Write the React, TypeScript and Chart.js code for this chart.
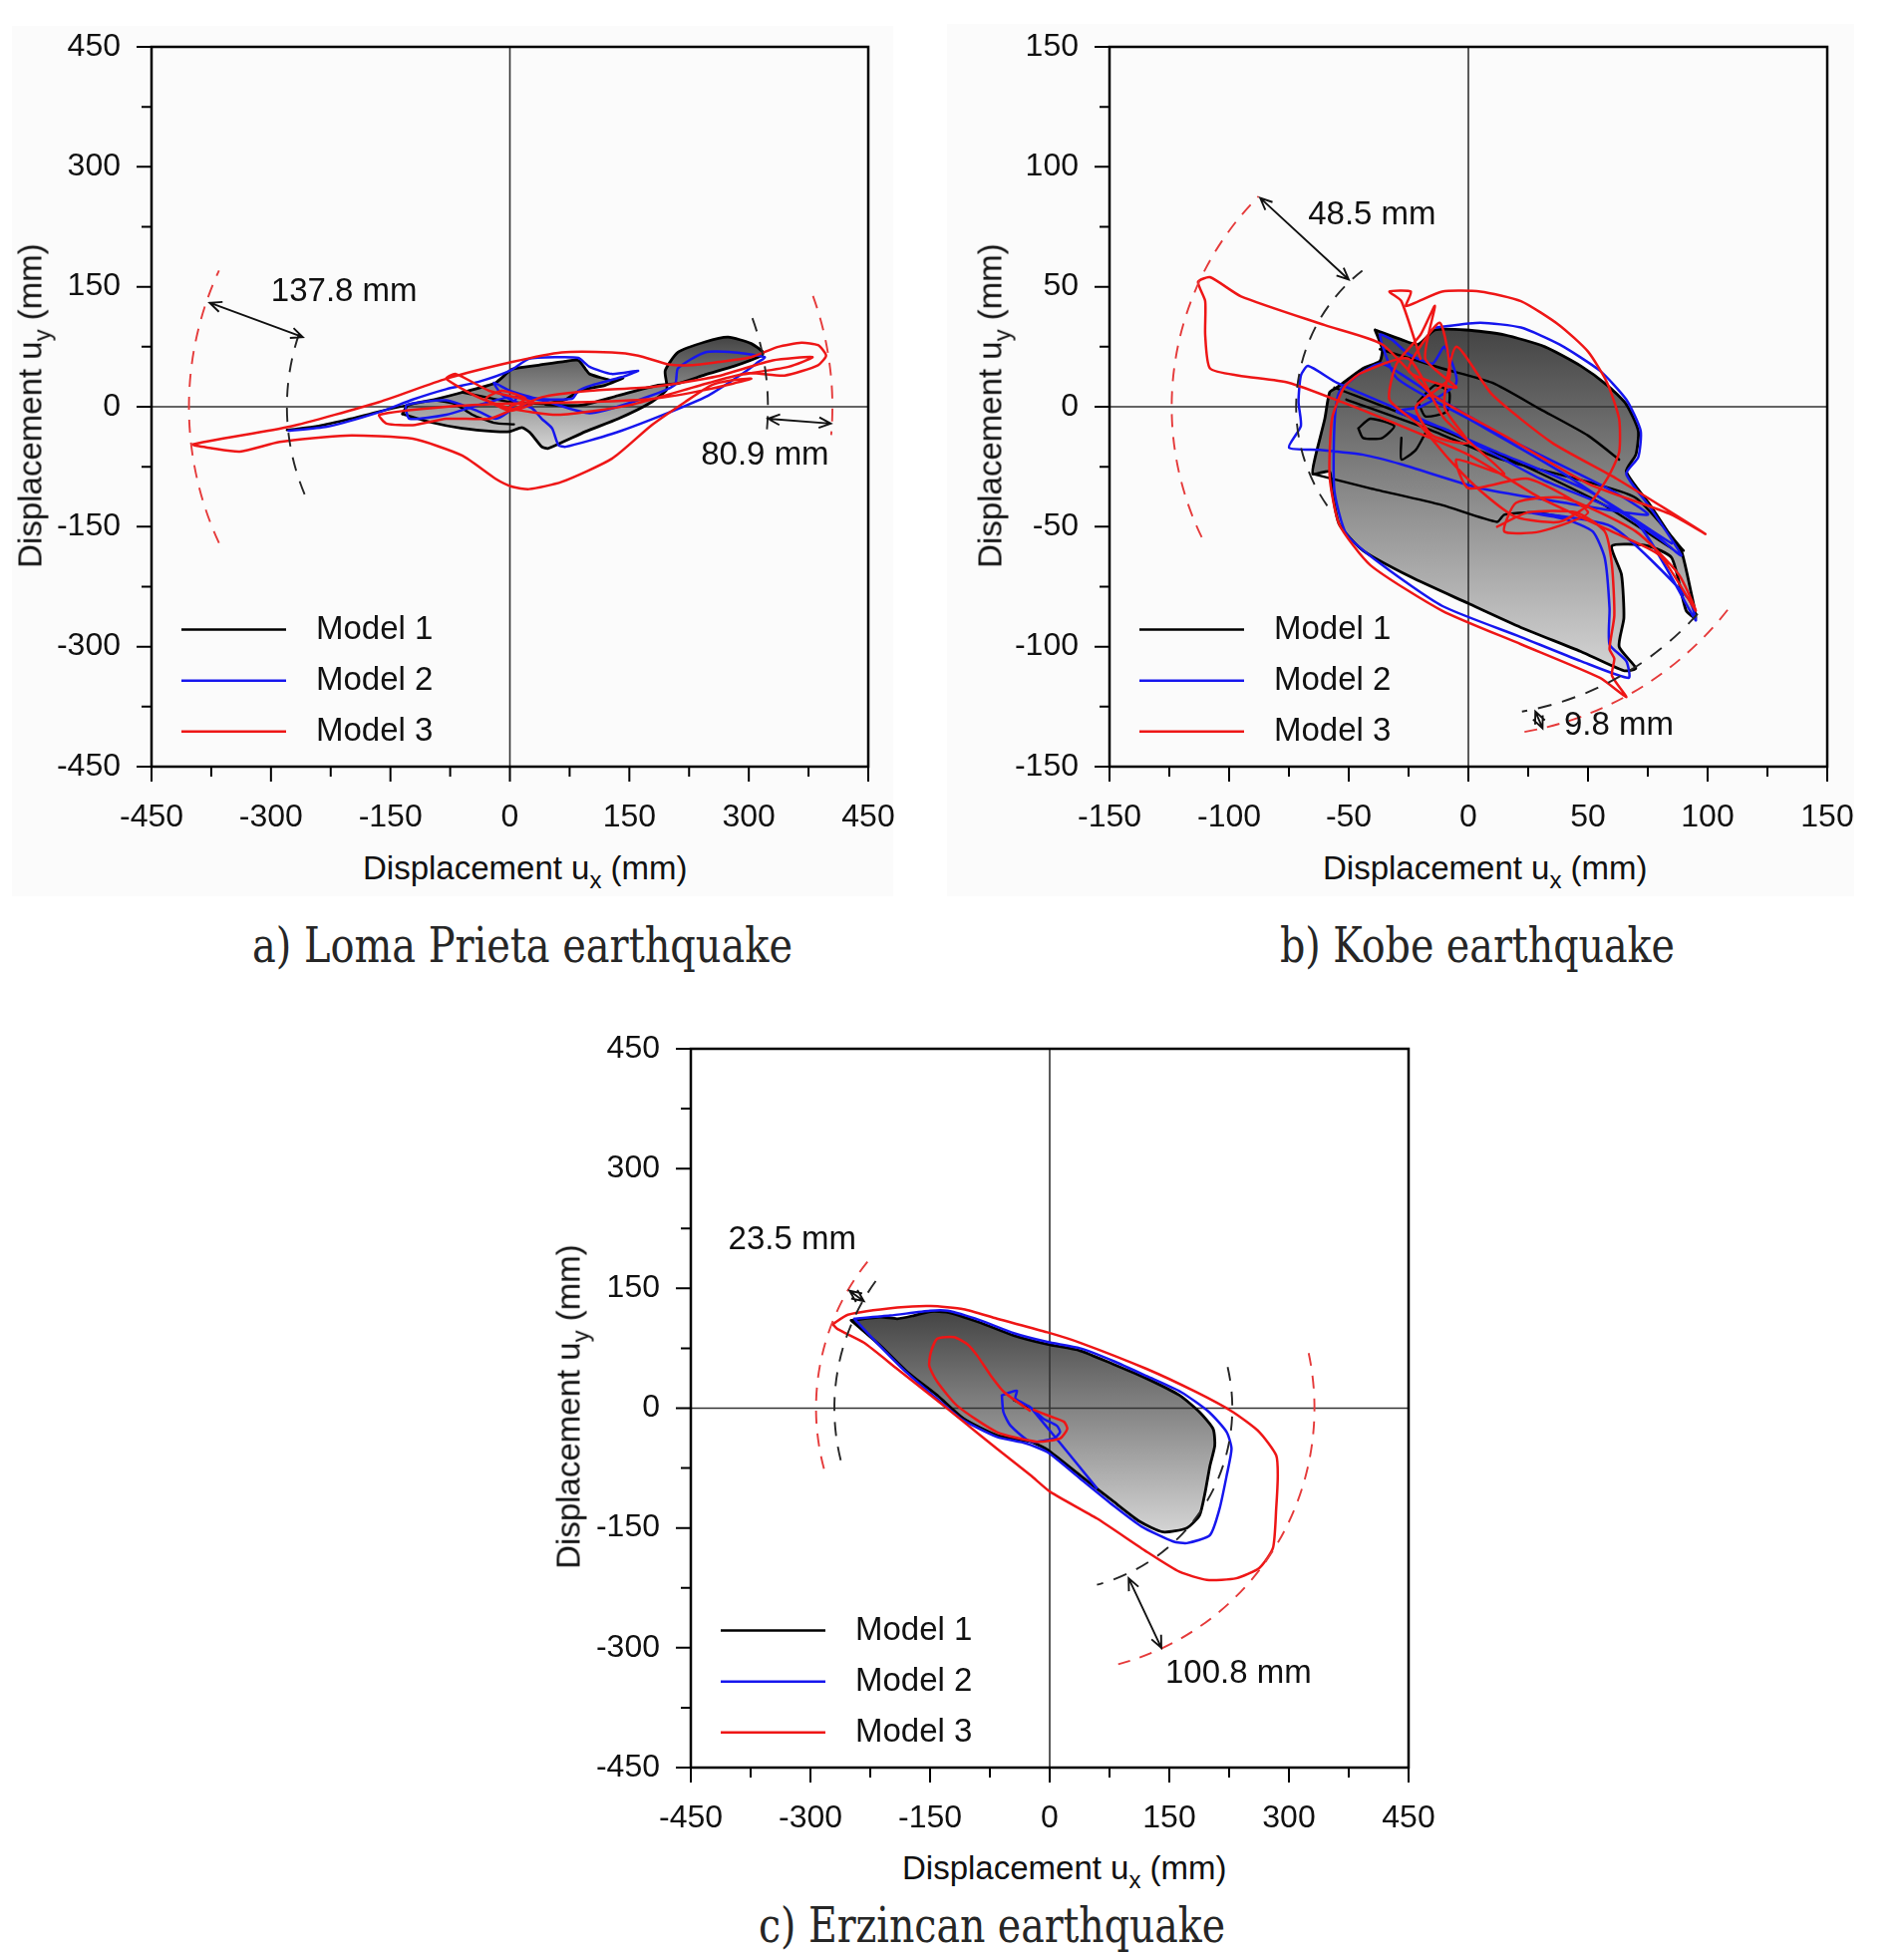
import React, { useEffect, useLayoutEffect, useRef } from 'react';
import { Chart, registerables } from 'chart.js';

Chart.register(...registerables);
Chart.defaults.font.family = '"Liberation Sans", Arial, Helvetica, sans-serif';

type Pt = [number, number] | null;
type Arc = { r: number; from: number; to: number; kind: 'm1' | 'm3' };
type Arrow = [number, number, number, number];
type Note = { text: string; x: number; y: number };

const MODEL_NAMES = ['Model 1', 'Model 2', 'Model 3'];

// ---------- a) Loma Prieta ----------
const LOMA_TICKS = [-450, -300, -150, 0, 150, 300, 450];
const LOMA_MODEL1_AREA: Pt[] = [
  [-135, -9], [-128, 2], [-95, 9], [-56, 19], [-18, 30], [3, 47], [36, 52], [70, 57], [86, 58], [95, 47],
  [100, 41], [128, 33], [142, 36], [120, 27], [88, 20], [70, 9], [45, 3], [90, 2], [136, 14], [186, 27],
  [211, 29], [245, 40], [282, 51], [316, 64], [318, 68], [303, 79], [274, 87], [245, 81], [211, 68], [195, 45],
  [197, 22], [178, 6], [136, -15], [95, -31], [48, -52], [40, -50], [25, -32], [15, -26], [0, -31], [-18, -31],
  [-60, -27], [-101, -19], [-135, -9],
];
const LOMA_MODEL1_TRACE: Pt[] = [
  [-280, -29], [-240, -24], [-200, -15], [-165, -6], [-128, 2], null,
  [-93, 8], [-70, 4], [-47, -10], [-20, -20], [5, -22], null,
  [-60, 18], [-30, 12], [0, 6], [30, 4], [60, 3],
];
const LOMA_MODEL2: Pt[] = [
  [-278, -30], [-230, -25], [-165, -7], [-122, 9], [-80, 22], [-40, 31], [0, 45], [24, 60], [60, 62], [86, 61],
  [100, 50], [128, 41], [161, 45], [140, 37], [103, 27], [86, 20], [78, 10], [36, 10], [0, 20], [-20, 30],
  [-10, 15], [10, 5], [28, -2], [40, -15], [53, -27], [61, -48], [70, -50], [128, -34], [190, -11], [249, 14],
  [290, 40], [312, 56], [320, 62], [282, 68], [245, 68], [211, 48], [207, 27], [160, 8], [100, -8], [40, 8],
  [0, 12], [-40, 2], [-80, -10], [-126, -15], [-130, 2], [-80, 8], [-39, -6], [-18, -15], [0, -5], [10, 15],
];
const LOMA_MODEL3: Pt[] = [
  [0, 0], [20, 10], [-10, 20], [-30, 10], [0, -5], [30, 5], [-26, 20], [-68, 41], [-80, 35], [-40, 12],
  [0, -2], [60, -10], [150, 2], [250, 30], [300, 42], [345, 39], [387, 52], [397, 64], [387, 77], [366, 80],
  [337, 75], [303, 62], [262, 56], [228, 52], [199, 53], [161, 64], [128, 68], [65, 68], [3, 56], [-80, 35],
  [-164, 6], [-277, -25], [-398, -47], [-373, -52], [-339, -56], [-289, -44], [-206, -36], [-122, -40], [-60, -61], [-18, -90],
  [3, -100], [24, -103], [65, -94], [128, -65], [178, -23], [220, 6], [253, 27], [278, 33], [303, 35], [250, 22],
  [180, 10], [100, 6], [0, 4], [-80, 0], [-164, -10], [-155, -21], [-122, -23], [-80, -15], [-26, -15], [0, -5],
  [40, 12], [100, 20], [180, 25], [260, 38], [330, 58], [380, 62], [350, 50], [290, 40],
];
const LOMA_ARCS: Arc[] = [
  { r: 403, from: 155, to: 205, kind: 'm3' },
  { r: 280, from: 160, to: 203, kind: 'm1' },
  { r: 324, from: -5, to: 20, kind: 'm1' },
  { r: 405, from: -5, to: 20, kind: 'm3' },
];
const LOMA_ARROWS: Arrow[] = [[-377, 130, -260, 87], [324, -15, 403, -21]];
const LOMA_NOTES: Note[] = [{ text: '137.8 mm', x: -300, y: 144 }, { text: '80.9 mm', x: 240, y: -61 }];

// ---------- b) Kobe ----------
const KOBE_TICKS = [-150, -100, -50, 0, 50, 100, 150];
const KOBE_MODEL1_AREA: Pt[] = [
  [-39, 32], [-28, 28], [-21, 26], [-14, 32], [-1, 32], [15, 30], [32, 25], [47, 17], [58, 9], [66, 1],
  [71, -10], [70, -20], [66, -27], [76, -41], [84, -53], [89, -60], [93, -77], [95, -88], [91, -85], [85, -63],
  [75, -58], [60, -58], [64, -70], [65, -88], [63, -100], [70, -109], [65, -110], [47, -102], [22, -92], [0, -82],
  [-24, -71], [-44, -60], [-54, -49], [-57, -35], [-58, -27], [-65, -28], [-64, -21], [-60, -5], [-58, 6], [-55, 8],
  [-44, 16], [-37, 19], [-36, 24], [-39, 32],
];
const KOBE_MODEL1_TRACE: Pt[] = [
  [-56, 8], [-20, -6], [22, -24], [55, -40], [85, -59], null,
  [-51, 3], [-15, -10], [14, -22], [45, -30], [70, -38], [90, -60], null,
  [-37, 24], [-11, 16], [10, 10], [30, -1], [50, -12], [63, -22], null,
  [-46, -9], [-41, -5], [-31, -8], [-36, -13], [-44, -13], [-46, -9], null,
  [-28, -13], [-28, -22], [-22, -18], [-18, -11], null,
  [-21, 2], [-18, -4], [-9, -2], [-8, 6], [-14, 9], [-21, 2], null,
  [-65, -28], [-41, -34], [-11, -41], [12, -48], [15, -45], [27, -44], [40, -46],
];
const KOBE_MODEL2: Pt[] = [
  [-14, 33], [5, 35], [22, 33], [38, 26], [55, 15], [66, 3], [72, -10], [71, -21], [66, -28], [76, -42],
  [89, -62], [80, -55], [40, -28], [0, -5], [-30, 12], [-37, 30], [-32, 28], [-25, 22], [-15, 18], [-10, 25],
  [-5, 10], [-20, 0], [-30, -2], [-8, -10], [30, -30], [70, -48], [95, -89], [92, -80], [60, -50], [25, -44],
  [41, -47], [52, -52], [57, -63], [59, -84], [59, -99], [66, -106], [67, -113], [47, -106], [22, -96], [-11, -83],
  [-36, -66], [-51, -53], [-56, -35], [-56, -8], [-54, 6], [-45, 14], [-36, 18], [-15, 5], [20, -15], [60, -35],
  [75, -45], [40, -40], [5, -34], [-28, -24], [-44, -20], [-62, -18], [-75, -17], [-70, -8], [-71, 2], [-70, 13],
  [-67, 17], [-55, 10], [-20, -5], [10, -18], [50, -35], [85, -57],
];
const KOBE_MODEL3: Pt[] = [
  [-20, 20], [-28, 44], [-33, 48], [-24, 48], [-26, 42], [-11, 48], [5, 48], [22, 44], [38, 34], [50, 23],
  [58, 10], [63, -5], [63, -19], [58, -30], [50, -41], [38, -48], [20, -46], [5, -35], [-8, -22], [-20, -8],
  [-33, 3], [-30, 18], [-20, 30], [-14, 42], [-18, 20], [-5, 8], [-25, 15], [-12, 35], [-8, 12], [-22, 0],
  [-15, -12], [0, -15], [-10, 0], [-5, 25], [10, 5], [35, -15], [62, -30], [99, -53], [85, -45], [50, -32],
  [15, -12], [-15, 5], [-36, 26], [-60, 34], [-95, 46], [-108, 54], [-113, 52], [-110, 44], [-110, 30], [-108, 16],
  [-96, 13], [-75, 10], [-53, 2], [-33, -6], [0, -20], [30, -38], [60, -52], [80, -62], [95, -85], [88, -70],
  [70, -52], [40, -38], [20, -40], [15, -52], [30, -52], [50, -44], [25, -30], [0, -34], [-5, -22], [15, -28],
  [-10, -5], [-25, 20], [-45, 14], [-52, 8], [-57, -5], [-58, -29], [-54, -49], [-41, -66], [-11, -85], [22, -99],
  [55, -113], [66, -121], [60, -112], [61, -105], [59, -101], [61, -87], [60, -66], [57, -52], [45, -44], [25, -44],
  [12, -50],
];
const KOBE_ARCS: Arc[] = [
  { r: 124, from: 135, to: 206, kind: 'm3' },
  { r: 72, from: 128, to: 215, kind: 'm1' },
  { r: 129, from: -80, to: -42, kind: 'm1' },
  { r: 137.5, from: -81, to: -38, kind: 'm3' },
];
const KOBE_ARROWS: Arrow[] = [[-87, 87, -50, 53], [28, -127, 31, -134]];
const KOBE_NOTES: Note[] = [{ text: '48.5 mm', x: -67, y: 80 }, { text: '9.8 mm', x: 40, y: -133 }];

// ---------- c) Erzincan ----------
const ERZINCAN_TICKS = [-450, -300, -150, 0, 150, 300, 450];
const ERZINCAN_MODEL1_AREA: Pt[] = [
  [-249, 110], [-212, 114], [-191, 112], [-170, 116], [-149, 121], [-128, 120], [-87, 107], [-45, 91], [-3, 80], [38, 72],
  [80, 55], [122, 37], [163, 16], [188, -5], [205, -26], [207, -47], [201, -72], [195, -105], [188, -134], [172, -150],
  [142, -155], [113, -142], [80, -117], [38, -84], [-3, -52], [-24, -42], [-66, -34], [-108, -13], [-141, 16], [-178, 45],
  [-212, 78], [-249, 110],
];
const ERZINCAN_MODEL1_TRACE: Pt[] = [[-45, 10], [-35, 6], [-28, 2]];
const ERZINCAN_MODEL2: Pt[] = [
  [-245, 112], [-200, 116], [-150, 122], [-128, 122], [-87, 110], [-45, 94], [-3, 83], [38, 75], [80, 59], [122, 40],
  [165, 20], [200, -5], [222, -30], [228, -51], [222, -84], [213, -126], [201, -159], [172, -169], [155, -167], [115, -148],
  [80, -122], [38, -88], [-3, -55], [-30, -44], [-66, -36], [-110, -14], [-145, 15], [-180, 45], [-215, 80], [-245, 112],
  null,
  [-60, 16], [-49, 20], [-41, 22], [-43, 12], [-24, 1], [-8, -13], [9, -22], [13, -30], [5, -38], [-24, -42],
  [-49, -22], [-58, -5], [-60, 16], null,
  [-24, 1], [10, -40], [59, -100],
];
const ERZINCAN_MODEL3: Pt[] = [
  [-272, 105], [-253, 117], [-191, 126], [-149, 128], [-108, 124], [-66, 112], [-3, 95], [38, 82], [122, 49], [184, 20],
  [230, -5], [263, -30], [284, -59], [286, -84], [284, -126], [280, -175], [263, -200], [234, -213], [197, -215], [163, -205],
  [122, -180], [59, -138], [1, -105], [-24, -84], [-66, -51], [-108, -17], [-149, 16], [-191, 49], [-233, 82], [-266, 99],
  [-272, 105], null,
  [-25, -3], [-57, 20], [-74, 41], [-91, 66], [-103, 80], [-120, 89], [-141, 87], [-149, 70], [-151, 53], [-141, 33],
  [-116, 3], [-66, -30], [-16, -42], [13, -38], [22, -26], [18, -17], [0, -10], [-20, -2],
];
const ERZINCAN_ARCS: Arc[] = [
  { r: 270, from: 142, to: 194, kind: 'm1' },
  { r: 293, from: 139, to: 195, kind: 'm3' },
  { r: 229, from: -75, to: 13, kind: 'm1' },
  { r: 332, from: -75, to: 12, kind: 'm3' },
];
const ERZINCAN_ARROWS: Arrow[] = [[-251, 147, -233, 134], [99, -213, 140, -300]];
const ERZINCAN_NOTES: Note[] = [{ text: '23.5 mm', x: -403, y: 211 }, { text: '100.8 mm', x: 145, y: -332 }];

// ---------- layout ----------
const AXIS_LEFT = 130;
const AXIS_BOTTOM = 70;
const PAD_TOP = 60;
const PAD_RIGHT = 66;
const FONT = '"Liberation Sans", Arial, Helvetica, sans-serif';
const BLACK = '#000000';
const BLUE = '#1616ee';
const RED = '#ee1616';

type Panel = {
  key: string;
  ticks: number[];
  area: Pt[];
  trace: Pt[];
  m2: Pt[];
  m3: Pt[];
  arcs: Arc[];
  arrows: Arrow[];
  notes: Note[];
  plot: { left: number; top: number; w: number; h: number };
};

const PANELS: Panel[] = [
  {
    key: 'a', ticks: LOMA_TICKS, area: LOMA_MODEL1_AREA, trace: LOMA_MODEL1_TRACE, m2: LOMA_MODEL2, m3: LOMA_MODEL3,
    arcs: LOMA_ARCS, arrows: LOMA_ARROWS, notes: LOMA_NOTES, plot: { left: 152, top: 47, w: 719, h: 722 },
  },
  {
    key: 'b', ticks: KOBE_TICKS, area: KOBE_MODEL1_AREA, trace: KOBE_MODEL1_TRACE, m2: KOBE_MODEL2, m3: KOBE_MODEL3,
    arcs: KOBE_ARCS, arrows: KOBE_ARROWS, notes: KOBE_NOTES, plot: { left: 1113, top: 47, w: 720, h: 722 },
  },
  {
    key: 'c', ticks: ERZINCAN_TICKS, area: ERZINCAN_MODEL1_AREA, trace: ERZINCAN_MODEL1_TRACE, m2: ERZINCAN_MODEL2, m3: ERZINCAN_MODEL3,
    arcs: ERZINCAN_ARCS, arrows: ERZINCAN_ARROWS, notes: ERZINCAN_NOTES, plot: { left: 693, top: 1052, w: 720, h: 721 },
  },
];

function drawArrow(ctx: CanvasRenderingContext2D, x1: number, y1: number, x2: number, y2: number) {
  const head = 13;
  const spread = 0.42;
  ctx.beginPath();
  ctx.moveTo(x1, y1);
  ctx.lineTo(x2, y2);
  const ends: [number, number, number][] = [
    [x1, y1, Math.atan2(y2 - y1, x2 - x1)],
    [x2, y2, Math.atan2(y1 - y2, x1 - x2)],
  ];
  for (const [ex, ey, ang] of ends) {
    ctx.moveTo(ex + head * Math.cos(ang + spread), ey + head * Math.sin(ang + spread));
    ctx.lineTo(ex, ey);
    ctx.lineTo(ex + head * Math.cos(ang - spread), ey + head * Math.sin(ang - spread));
  }
  ctx.stroke();
}

function decorPlugin(p: Panel) {
  return {
    id: 'orbitDecor',
    beforeDatasetsDraw(chart: any) {
      const { ctx, chartArea: a, scales } = chart;
      const xs = scales.x;
      const ys = scales.y;
      ctx.save();
      ctx.beginPath();
      ctx.rect(a.left, a.top, a.right - a.left, a.bottom - a.top);
      ctx.clip();
      // shaded envelope of Model 1
      const meta = chart.getDatasetMeta(0);
      const line = meta && meta.dataset;
      if (line && line.points && line.points.length) {
        line.updateControlPoints(a, 'x');
        const vals = p.area.filter((q) => q).map((q) => (q as [number, number])[1]);
        const yTop = ys.getPixelForValue(Math.max(...vals));
        const yBot = ys.getPixelForValue(Math.min(...vals));
        const g = ctx.createLinearGradient(0, yTop, 0, yBot);
        g.addColorStop(0, '#444444');
        g.addColorStop(1, '#d4d4d4');
        ctx.beginPath();
        line.path(ctx);
        ctx.closePath();
        ctx.fillStyle = g;
        ctx.fill();
      }
      // zero axes
      const x0 = xs.getPixelForValue(0);
      const y0 = ys.getPixelForValue(0);
      ctx.strokeStyle = '#333333';
      ctx.lineWidth = 1.6;
      ctx.beginPath();
      ctx.moveTo(x0, a.top);
      ctx.lineTo(x0, a.bottom);
      ctx.moveTo(a.left, y0);
      ctx.lineTo(a.right, y0);
      ctx.stroke();
      ctx.restore();
    },
    afterDatasetsDraw(chart: any) {
      const { ctx, chartArea: a, scales } = chart;
      const xs = scales.x;
      const ys = scales.y;
      const cx = xs.getPixelForValue(0);
      const cy = ys.getPixelForValue(0);
      const ux = xs.getPixelForValue(1) - cx;
      const uy = cy - ys.getPixelForValue(1);
      ctx.save();
      ctx.beginPath();
      ctx.rect(a.left, a.top, a.right - a.left, a.bottom - a.top);
      ctx.clip();
      // peak-displacement arcs
      for (const arc of p.arcs) {
        ctx.strokeStyle = arc.kind === 'm1' ? '#262626' : '#e53a3a';
        ctx.lineWidth = 1.9;
        ctx.setLineDash(arc.kind === 'm1' ? [14, 11] : [13, 10]);
        ctx.beginPath();
        ctx.ellipse(cx, cy, arc.r * ux, arc.r * uy, 0, (-arc.to * Math.PI) / 180, (-arc.from * Math.PI) / 180);
        ctx.stroke();
      }
      ctx.setLineDash([]);
      // dimension arrows
      ctx.strokeStyle = '#111';
      ctx.lineWidth = 1.9;
      for (const [x1, y1, x2, y2] of p.arrows) {
        drawArrow(ctx, xs.getPixelForValue(x1), ys.getPixelForValue(y1), xs.getPixelForValue(x2), ys.getPixelForValue(y2));
      }
      ctx.fillStyle = '#111';
      ctx.font = `33px ${FONT}`;
      ctx.textAlign = 'left';
      ctx.textBaseline = 'middle';
      for (const n of p.notes) {
        ctx.fillText(n.text, xs.getPixelForValue(n.x), ys.getPixelForValue(n.y));
      }
      // legend
      const legendColors = [BLACK, BLUE, RED];
      const legendOffsets = [137.5, 86.3, 35.2];
      for (let i = 0; i < 3; i++) {
        const y = a.bottom - legendOffsets[i];
        ctx.strokeStyle = legendColors[i];
        ctx.lineWidth = 2.6;
        ctx.beginPath();
        ctx.moveTo(a.left + 30, y);
        ctx.lineTo(a.left + 135, y);
        ctx.stroke();
        ctx.fillStyle = '#111';
        ctx.fillText(MODEL_NAMES[i], a.left + 165, y);
      }
      ctx.restore();
      // frame and outward tick marks
      ctx.save();
      ctx.strokeStyle = '#000';
      ctx.lineWidth = 2.5;
      ctx.strokeRect(a.left, a.top, a.right - a.left, a.bottom - a.top);
      ctx.lineWidth = 2;
      ctx.beginPath();
      const t = p.ticks;
      const marks: [number, number][] = [];
      for (let i = 0; i < t.length; i++) {
        marks.push([t[i], 15]);
        if (i < t.length - 1) marks.push([(t[i] + t[i + 1]) / 2, 10]);
      }
      for (const [v, len] of marks) {
        const px = xs.getPixelForValue(v);
        ctx.moveTo(px, a.bottom);
        ctx.lineTo(px, a.bottom + len);
        const py = ys.getPixelForValue(v);
        ctx.moveTo(a.left, py);
        ctx.lineTo(a.left - len, py);
      }
      ctx.stroke();
      ctx.restore();
    },
  };
}

function toXY(pts: Pt[]) {
  return pts.map((q) => (q ? { x: q[0], y: q[1] } : { x: null, y: null }));
}

function OrbitChart({ p }: { p: Panel }) {
  const ref = useRef<HTMLCanvasElement>(null);
  const width = AXIS_LEFT + p.plot.w + PAD_RIGHT;
  const height = PAD_TOP + p.plot.h + AXIS_BOTTOM;
  useEffect(() => {
    const canvas = ref.current;
    if (!canvas) return;
    const series = (pts: Pt[], color: string, w: number, order: number, label: string) => ({
      label,
      data: toXY(pts),
      showLine: true,
      borderColor: color,
      backgroundColor: color,
      borderWidth: w,
      pointRadius: 0,
      pointHoverRadius: 0,
      tension: 0.2,
      spanGaps: false,
      fill: false,
      order,
      borderJoinStyle: 'round',
      borderCapStyle: 'round',
    });
    const axis = (isX: boolean) => ({
      type: 'linear',
      min: p.ticks[0],
      max: p.ticks[p.ticks.length - 1],
      afterBuildTicks: (s: any) => {
        s.ticks = p.ticks.map((v) => ({ value: v }));
      },
      afterFit: (s: any) => {
        if (isX) s.height = AXIS_BOTTOM;
        else s.width = AXIS_LEFT;
      },
      grid: { display: false, drawTicks: false },
      border: { display: false },
      ticks: {
        color: '#111',
        font: { size: 32, family: FONT },
        padding: isX ? 32 : 31,
        maxRotation: 0,
        minRotation: 0,
        autoSkip: false,
        callback: (v: any) => String(v),
      },
    });
    const chart = new Chart(canvas, {
      type: 'scatter',
      data: {
        datasets: [
          series(p.area, BLACK, 2.8, 4, 'Model 1 envelope'),
          series(p.trace, BLACK, 2.4, 3, MODEL_NAMES[0]),
          series(p.m2, BLUE, 2.5, 2, MODEL_NAMES[1]),
          series(p.m3, RED, 2.5, 1, MODEL_NAMES[2]),
        ],
      } as any,
      options: {
        responsive: false,
        animation: false,
        events: [],
        layout: { padding: { top: PAD_TOP, right: PAD_RIGHT, left: 0, bottom: 0 } },
        plugins: { legend: { display: false }, tooltip: { enabled: false } },
        scales: { x: axis(true), y: axis(false) } as any,
      },
      plugins: [decorPlugin(p)],
    });
    return () => chart.destroy();
  }, [p]);
  return (
    <canvas
      ref={ref}
      width={width}
      height={height}
      style={{ position: 'absolute', left: p.plot.left - AXIS_LEFT, top: p.plot.top - PAD_TOP, width, height }}
    />
  );
}

function FitText({ text, left, top, width }: { text: string; left: number; top: number; width: number }) {
  const ref = useRef<HTMLSpanElement>(null);
  useLayoutEffect(() => {
    const el = ref.current;
    if (!el) return;
    el.style.transform = 'none';
    const w = el.getBoundingClientRect().width;
    if (w > 0) el.style.transform = `scaleX(${width / w})`;
  }, [text, width]);
  return (
    <span
      ref={ref}
      style={{
        position: 'absolute',
        left,
        top,
        whiteSpace: 'nowrap',
        transformOrigin: '0 0',
        fontFamily: '"DejaVu Serif Condensed", "DejaVu Serif", serif',
        fontStretch: 'condensed',
        fontSize: 48,
        lineHeight: '48px',
        color: '#262626',
      }}
    >
      {text}
    </span>
  );
}

function AxisTitle({ sub, left, top, rotate }: { sub: string; left: number; top: number; rotate?: boolean }) {
  const style: React.CSSProperties = rotate
    ? { position: 'absolute', left, top, transform: 'translate(-50%, -50%) rotate(-90deg)' }
    : { position: 'absolute', left, top };
  return (
    <div style={{ ...style, font: `33px ${FONT}`, color: '#111', whiteSpace: 'nowrap', lineHeight: '38px' }}>
      Displacement u<span style={{ fontSize: 24, position: 'relative', top: 9 }}>{sub}</span> (mm)
    </div>
  );
}

export default function App() {
  return (
    <div style={{ position: 'absolute', left: 0, top: 0, width: 1910, height: 1958, background: '#ffffff', overflow: 'hidden' }}>
      <div style={{ position: 'absolute', left: 12, top: 26, width: 884, height: 873, background: '#fbfbfb' }} />
      <div style={{ position: 'absolute', left: 950, top: 24, width: 910, height: 875, background: '#fbfbfb' }} />
      {PANELS.map((p) => (
        <OrbitChart key={p.key} p={p} />
      ))}
      <AxisTitle sub="x" left={364} top={852} />
      <AxisTitle sub="y" left={32} top={407} rotate />
      <AxisTitle sub="x" left={1327} top={852} />
      <AxisTitle sub="y" left={995} top={407} rotate />
      <AxisTitle sub="x" left={905} top={1855} />
      <AxisTitle sub="y" left={572} top={1411} rotate />
      <FitText text="a) Loma Prieta earthquake" left={253} top={924} width={542} />
      <FitText text="b) Kobe earthquake" left={1284} top={924} width={396} />
      <FitText text="c) Erzincan earthquake" left={761} top={1907} width={468} />
    </div>
  );
}
